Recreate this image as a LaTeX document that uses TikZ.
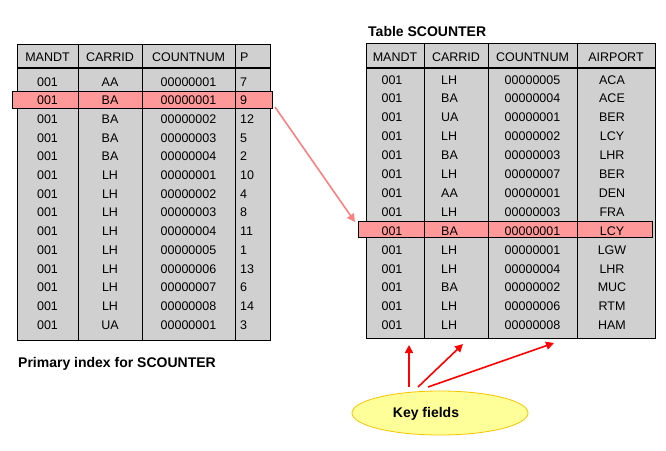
\documentclass[tikz,border=0pt]{standalone}
\usepackage{fontspec}
\setmainfont{Liberation Sans}
\usetikzlibrary{arrows.meta,shapes.geometric}
\definecolor{cellgray}{HTML}{D0D0D0}
\definecolor{hl}{HTML}{FF9999}
\definecolor{pinkarrow}{HTML}{FF8080}
\definecolor{keyfill}{HTML}{FFFF99}
\definecolor{keyedge}{HTML}{F5C400}
\tikzset{
  cell/.style={font=\fontsize{12.5}{14}\selectfont, inner sep=0pt, anchor=base},
  title/.style={font=\bfseries\fontsize{14}{16}\selectfont, anchor=base west, inner sep=0pt},
  tbl/.style={draw=black, fill=cellgray, line width=0.8pt},
  redarrow/.style={draw=red, line width=1.6pt, -{Triangle[length=8pt,width=8pt]}},
}
\begin{document}
\begin{tikzpicture}[x=1pt,y=-1pt]
\useasboundingbox (0,0) rectangle (666,450);
% ---------- left table
\draw[tbl] (17,44) rectangle (270,67);
\draw[tbl] (17,68) rectangle (270,340);
\foreach \x in {78,142,235}{\draw[line width=0.8pt] (\x,44) -- (\x,340);}
\fill[hl] (12,91) rectangle (272,108);
\draw[line width=0.8pt] (12,91) rectangle (272,108);
\foreach \x in {78,142,235}{\draw[line width=0.8pt] (\x,91) -- (\x,108);}
\node[cell] (lh1) at (47.5,61) {MANDT};
\node[cell] (lh2) at (110,61) {CARRID};
\node[cell] (lh3) at (188.5,61) {COUNTNUM};
\node[cell,anchor=base west] (lh4) at (240,61) {P};
\foreach [count=\i] \c/\n/\p in {AA/00000001/7,BA/00000001/9,BA/00000002/12,BA/00000003/5,BA/00000004/2,LH/00000001/10,LH/00000002/4,LH/00000003/8,LH/00000004/11,LH/00000005/1,LH/00000006/13,LH/00000007/6,LH/00000008/14,UA/00000001/3}{
  \pgfmathsetmacro\yy{86+(\i-1)*18.7}
  \node[cell] (la\i) at (47.5,\yy) {001};
  \node[cell] (lb\i) at (110,\yy) {\c};
  \node[cell] (lc\i) at (188.5,\yy) {\n};
  \node[cell,anchor=base west] (ld\i) at (240,\yy) {\p};
}
\node[title] (ltitle) at (18,367) {Primary index for SCOUNTER};
% ---------- right table
\node[title] (rtitle) at (368,36) {Table SCOUNTER};
\draw[tbl] (366,43) rectangle (655,67);
\draw[tbl] (366,68) rectangle (655,338);
\foreach \x in {424,488,577}{\draw[line width=0.8pt] (\x,43) -- (\x,338);}
\fill[hl] (358,221) rectangle (652,237);
\draw[line width=0.8pt] (358,221) rectangle (652,237);
\foreach \x in {424,488,577}{\draw[line width=0.8pt] (\x,221) -- (\x,237);}
\node[cell] (rh1) at (395,61) {MANDT};
\node[cell] (rh2) at (456,61) {CARRID};
\node[cell] (rh3) at (532.5,61) {COUNTNUM};
\node[cell] (rh4) at (616,61) {AIRPORT};
\foreach [count=\i] \c/\n/\p in {LH/00000005/ACA,BA/00000004/ACE,UA/00000001/BER,LH/00000002/LCY,BA/00000003/LHR,LH/00000007/BER,AA/00000001/DEN,LH/00000003/FRA,BA/00000001/LCY,LH/00000001/LGW,LH/00000004/LHR,BA/00000002/MUC,LH/00000006/RTM,LH/00000008/HAM}{
  \pgfmathsetmacro\yy{84+(\i-1)*18.9}
  \node[cell] (ra\i) at (392,\yy) {001};
  \node[cell,anchor=base west] (rb\i) at (441,\yy) {\c};
  \node[cell] (rc\i) at (532.5,\yy) {\n};
  \node[cell] (rd\i) at (612,\yy) {\p};
}
% ---------- pink arrow
\coordinate (pa) at (275,107);
\coordinate (pb) at (355,222);
\draw[draw=pinkarrow, line width=1.6pt, -{Triangle[length=8pt,width=8pt]}] (pa) -- (pb);
% ---------- key fields
\node[ellipse, draw=keyedge, fill=keyfill, line width=0.8pt, minimum width=176pt, minimum height=44pt, inner sep=0pt] (key) at (440,413) {};
\node[font=\bfseries\fontsize{14}{16}\selectfont, inner sep=0pt] (keyt) at (426,414) {Key fields};
\coordinate (k1) at (409,387); \coordinate (t1) at (409,345);
\coordinate (k2) at (418,387); \coordinate (t2) at (463,344);
\coordinate (k3) at (428,387); \coordinate (t3) at (554,343);
\draw[redarrow] (k1) -- (t1);
\draw[redarrow] (k2) -- (t2);
\draw[redarrow] (k3) -- (t3);
\end{tikzpicture}
\end{document}
